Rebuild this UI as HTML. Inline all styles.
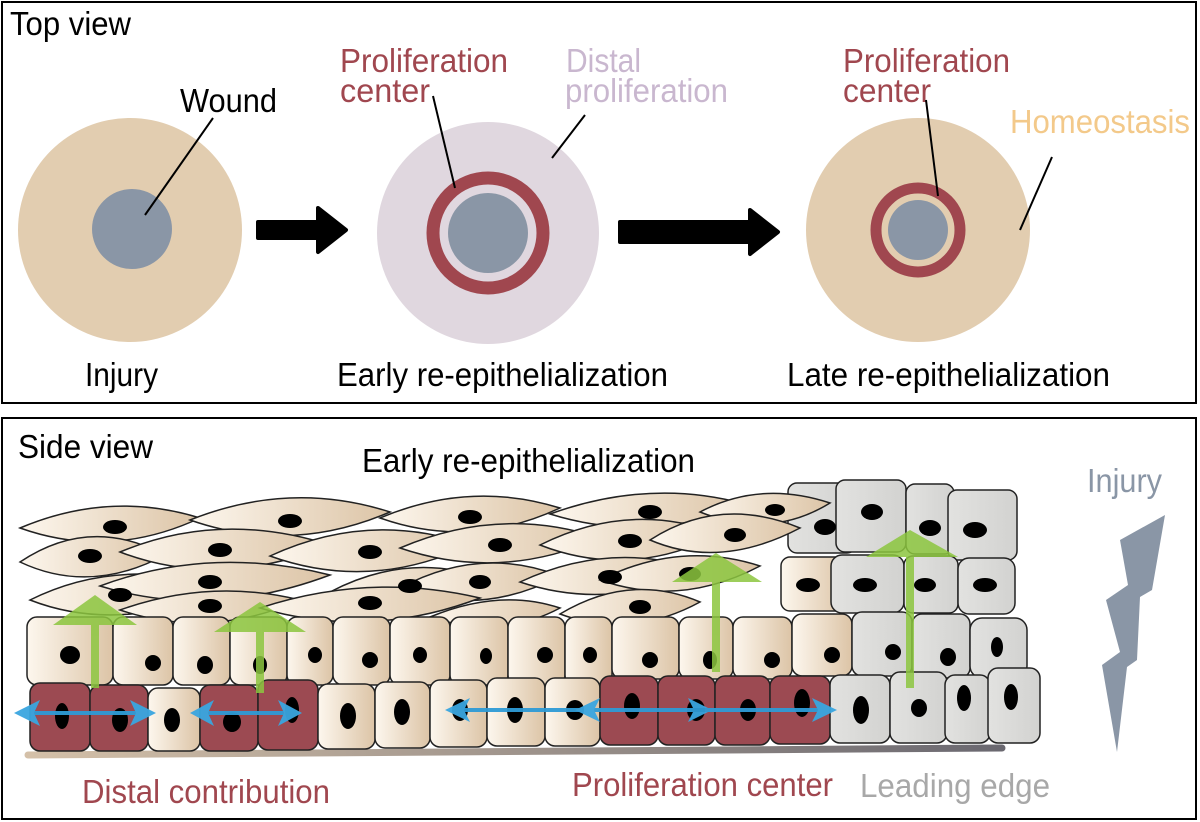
<!DOCTYPE html>
<html><head><meta charset="utf-8"><style>
html,body{margin:0;padding:0;background:#fff;}
svg{display:block;}
text{font-family:"Liberation Sans",sans-serif;font-size:33px;}
</style></head><body>
<svg width="1200" height="822" viewBox="0 0 1200 822" xmlns="http://www.w3.org/2000/svg">
<defs>
<linearGradient id="bg" x1="0" x2="1" y1="0" y2="0"><stop offset="0" stop-color="#fdf7ee"/><stop offset="1" stop-color="#dcc4a6"/></linearGradient>
<linearGradient id="gg" x1="0" x2="1"><stop offset="0" stop-color="#e2e2e0"/><stop offset="1" stop-color="#d2d2d0"/></linearGradient>
<linearGradient id="bm" x1="0" x2="1"><stop offset="0" stop-color="#d4c0a8"/><stop offset="1" stop-color="#6a6870"/></linearGradient>
</defs>
<rect x="2" y="2" width="1194" height="401" fill="#fff" stroke="#000" stroke-width="2"/>
<rect x="2" y="418" width="1194" height="401" fill="#fff" stroke="#000" stroke-width="2"/>

<g lengthAdjust="spacingAndGlyphs">
<text x="10" y="35" textLength="121" lengthAdjust="spacingAndGlyphs">Top view</text>
<text x="180" y="112" textLength="97" lengthAdjust="spacingAndGlyphs">Wound</text>
<text x="85" y="386" textLength="73" lengthAdjust="spacingAndGlyphs">Injury</text>
<text x="340" y="72" fill="#a0474f" textLength="168" lengthAdjust="spacingAndGlyphs">Proliferation</text>
<text x="340" y="102" fill="#a0474f" textLength="90" lengthAdjust="spacingAndGlyphs">center</text>
<text x="566" y="72" fill="#c9b7cf" textLength="75" lengthAdjust="spacingAndGlyphs">Distal</text>
<text x="565" y="102" fill="#c9b7cf" textLength="163" lengthAdjust="spacingAndGlyphs">proliferation</text>
<text x="337" y="386" textLength="331" lengthAdjust="spacingAndGlyphs">Early re-epithelialization</text>
<text x="843" y="72" fill="#a0474f" textLength="167" lengthAdjust="spacingAndGlyphs">Proliferation</text>
<text x="843" y="102" fill="#a0474f" textLength="88" lengthAdjust="spacingAndGlyphs">center</text>
<text x="1010" y="133" fill="#f3c98a" textLength="180" lengthAdjust="spacingAndGlyphs">Homeostasis</text>
<text x="787" y="386" textLength="323" lengthAdjust="spacingAndGlyphs">Late re-epithelialization</text>
<text x="18" y="458" textLength="135" lengthAdjust="spacingAndGlyphs">Side view</text>
<text x="362" y="472" textLength="333" lengthAdjust="spacingAndGlyphs">Early re-epithelialization</text>
<text x="1087" y="492" fill="#8a96a6" textLength="75" lengthAdjust="spacingAndGlyphs">Injury</text>
<text x="82" y="803" fill="#a0474f" textLength="248" lengthAdjust="spacingAndGlyphs">Distal contribution</text>
<text x="572" y="796" fill="#a0474f" textLength="261" lengthAdjust="spacingAndGlyphs">Proliferation center</text>
<text x="860" y="797" fill="#a8a8a8" textLength="190" lengthAdjust="spacingAndGlyphs">Leading edge</text>
</g>

<circle cx="130" cy="230" r="112" fill="#e2cdb0"/>
<circle cx="132" cy="229" r="40" fill="#8a96a6"/>
<line x1="213" y1="118" x2="145" y2="215" stroke="#000" stroke-width="2"/>

<path d="M258 222 H318 V208 L346 230 L318 252 V238 H258Z" fill="#000" stroke="#000" stroke-width="4" stroke-linejoin="round"/>

<circle cx="488" cy="233" r="111" fill="#e0d7df"/>
<circle cx="488" cy="233" r="55" fill="none" stroke="#a0474f" stroke-width="13"/>
<circle cx="488" cy="233" r="40" fill="#8a96a6"/>
<line x1="433" y1="96" x2="455" y2="188" stroke="#000" stroke-width="2"/>
<line x1="585" y1="115" x2="552" y2="158" stroke="#000" stroke-width="2"/>

<path d="M620 222 H750 V210 L778 232 L750 254 V242 H620Z" fill="#000" stroke="#000" stroke-width="4" stroke-linejoin="round"/>

<circle cx="918" cy="230" r="112" fill="#e2cdb0"/>
<circle cx="918" cy="230" r="42" fill="none" stroke="#a0474f" stroke-width="11"/>
<circle cx="918" cy="230" r="30" fill="#8a96a6"/>
<line x1="926" y1="100" x2="938" y2="196" stroke="#000" stroke-width="2"/>
<line x1="1052" y1="157" x2="1020" y2="230" stroke="#000" stroke-width="2"/>

<polygon points="1165,515 1152,590 1140,597 1137,660 1127,667 1117,752 1102,665 1120,652 1106,600 1128,585 1120,540" fill="#8a96a6"/>

<line x1="28" y1="755" x2="1002" y2="748" stroke="url(#bm)" stroke-width="7" stroke-linecap="round"/>

<g stroke="#222" stroke-width="1.5">
<rect x="788" y="483" width="68" height="70" rx="9" fill="url(#gg)"/>
<rect x="836" y="480" width="70" height="72" rx="9" fill="url(#gg)"/>
<rect x="906" y="484" width="48" height="70" rx="9" fill="url(#gg)"/>
<rect x="948" y="490" width="69" height="70" rx="9" fill="url(#gg)"/>
<rect x="781" y="557" width="65" height="54" rx="9" fill="url(#bg)"/>
<rect x="831" y="555" width="73" height="58" rx="11" fill="url(#gg)"/>
<rect x="904" y="556" width="54" height="57" rx="9" fill="url(#gg)"/>
<rect x="958" y="558" width="57" height="56" rx="11" fill="url(#gg)"/>
<g fill="url(#bg)">
<path d="M20 528 Q110 490 200 518 Q110 560 20 528Z"/>
<path d="M190 520 Q290 480 390 512 Q290 555 190 520Z"/>
<path d="M380 518 Q470 480 560 508 Q470 550 380 518Z"/>
<path d="M550 514 Q650 478 745 504 Q650 545 550 514Z"/>
<path d="M700 512 Q760 480 830 503 Q770 540 700 512Z"/>
<path d="M20 562 Q90 515 165 555 Q90 595 20 562Z"/>
<path d="M120 552 Q220 510 330 545 Q220 590 120 552Z"/>
<path d="M270 556 Q370 510 470 545 Q370 592 270 556Z"/>
<path d="M400 548 Q500 505 600 538 Q500 582 400 548Z"/>
<path d="M540 545 Q630 500 720 534 Q630 580 540 545Z"/>
<path d="M650 540 Q720 495 800 528 Q720 570 650 540Z"/>
<path d="M30 600 Q120 555 230 588 Q120 635 30 600Z"/>
<path d="M100 586 Q210 545 330 575 Q210 620 100 586Z"/>
<path d="M330 592 Q410 550 490 580 Q410 622 330 592Z"/>
<path d="M400 588 Q480 545 560 576 Q480 618 400 588Z"/>
<path d="M520 582 Q610 540 700 570 Q610 612 520 582Z"/>
<path d="M600 580 Q680 540 760 566 Q680 608 600 580Z"/>
<path d="M120 610 Q210 578 300 600 Q210 640 120 610Z"/>
<path d="M260 608 Q370 572 480 598 Q370 640 260 608Z"/>
<path d="M560 614 Q630 572 700 602 Q630 640 560 614Z"/>
<path d="M430 617 Q500 588 560 608 Q500 640 430 617Z"/>
</g>
</g>
<g fill="#000">
<ellipse cx="115" cy="527" rx="12" ry="7"/><ellipse cx="290" cy="521" rx="12" ry="7"/><ellipse cx="470" cy="517" rx="12" ry="7"/><ellipse cx="650" cy="512" rx="12" ry="7"/><ellipse cx="775" cy="510" rx="10" ry="6"/>
<ellipse cx="90" cy="556" rx="12" ry="7"/><ellipse cx="220" cy="550" rx="12" ry="7"/><ellipse cx="370" cy="552" rx="12" ry="7"/><ellipse cx="500" cy="545" rx="12" ry="7"/><ellipse cx="630" cy="541" rx="12" ry="7"/><ellipse cx="735" cy="535" rx="11" ry="7"/>
<ellipse cx="120" cy="595" rx="12" ry="7"/><ellipse cx="210" cy="582" rx="12" ry="7"/><ellipse cx="410" cy="586" rx="12" ry="7"/><ellipse cx="480" cy="582" rx="11" ry="7"/><ellipse cx="610" cy="577" rx="12" ry="7"/><ellipse cx="690" cy="574" rx="11" ry="7"/>
<ellipse cx="210" cy="606" rx="12" ry="7"/><ellipse cx="370" cy="603" rx="12" ry="7"/><ellipse cx="640" cy="607" rx="11" ry="7"/>
<ellipse cx="825" cy="527" rx="11" ry="8"/><ellipse cx="872" cy="512" rx="11" ry="8"/><ellipse cx="930" cy="528" rx="11" ry="8"/><ellipse cx="975" cy="530" rx="12" ry="8"/>
<ellipse cx="808" cy="585" rx="12" ry="7"/><ellipse cx="865" cy="585" rx="12" ry="7"/><ellipse cx="925" cy="585" rx="11" ry="7"/><ellipse cx="985" cy="585" rx="12" ry="7"/>
</g>

<g stroke="#222" stroke-width="1.5" fill="url(#bg)">
<rect x="27" y="617" width="86" height="68" rx="10"/>
<rect x="113" y="617" width="60" height="68" rx="10"/>
<rect x="173" y="617" width="57" height="68" rx="10"/>
<rect x="230" y="617" width="57" height="68" rx="10"/>
<rect x="287" y="617" width="46" height="68" rx="10"/>
<rect x="333" y="617" width="57" height="68" rx="10"/>
<rect x="390" y="617" width="60" height="68" rx="10"/>
<rect x="450" y="617" width="58" height="68" rx="10"/>
<rect x="508" y="617" width="57" height="68" rx="10"/>
<rect x="565" y="617" width="47" height="68" rx="10"/>
<rect x="612" y="617" width="67" height="62" rx="10"/>
<rect x="679" y="617" width="54" height="62" rx="10"/>
<rect x="733" y="617" width="59" height="62" rx="10"/>
<rect x="792" y="614" width="60" height="62" rx="10"/>
<rect x="852" y="612" width="60" height="64" rx="10" fill="url(#gg)"/>
<rect x="912" y="614" width="58" height="64" rx="10" fill="url(#gg)"/>
<rect x="970" y="618" width="57" height="60" rx="12" fill="url(#gg)"/>
</g>
<g fill="#000">
<ellipse cx="70" cy="655" rx="10" ry="9"/><ellipse cx="153" cy="663" rx="8" ry="8"/><ellipse cx="205" cy="665" rx="8" ry="9"/><ellipse cx="260" cy="665" rx="7" ry="9"/><ellipse cx="315" cy="655" rx="7" ry="8"/><ellipse cx="370" cy="660" rx="8" ry="8"/><ellipse cx="420" cy="655" rx="7" ry="8"/><ellipse cx="486" cy="656" rx="6" ry="8"/><ellipse cx="545" cy="655" rx="8" ry="8"/><ellipse cx="590" cy="655" rx="7" ry="8"/>
<ellipse cx="650" cy="660" rx="8" ry="8"/><ellipse cx="710" cy="660" rx="7" ry="9"/><ellipse cx="772" cy="660" rx="8" ry="8"/><ellipse cx="832" cy="655" rx="8" ry="8"/><ellipse cx="893" cy="652" rx="8" ry="8"/><ellipse cx="948" cy="657" rx="8" ry="9"/><ellipse cx="997" cy="647" rx="6" ry="10"/>
</g>

<g stroke="#222" stroke-width="1.5">
<rect x="30" y="683" width="60" height="68" rx="10" fill="#9c4a52"/>
<rect x="90" y="685" width="58" height="66" rx="10" fill="#9c4a52"/>
<rect x="148" y="688" width="52" height="63" rx="10" fill="url(#bg)"/>
<rect x="200" y="685" width="58" height="66" rx="10" fill="#9c4a52"/>
<rect x="258" y="680" width="60" height="70" rx="10" fill="#9c4a52"/>
<rect x="318" y="684" width="57" height="65" rx="10" fill="url(#bg)"/>
<rect x="375" y="682" width="55" height="66" rx="10" fill="url(#bg)"/>
<rect x="430" y="680" width="57" height="67" rx="10" fill="url(#bg)"/>
<rect x="487" y="678" width="58" height="68" rx="10" fill="url(#bg)"/>
<rect x="545" y="678" width="55" height="68" rx="10" fill="url(#bg)"/>
<rect x="600" y="676" width="58" height="69" rx="10" fill="#9c4a52"/>
<rect x="658" y="676" width="57" height="69" rx="10" fill="#9c4a52"/>
<rect x="715" y="676" width="55" height="69" rx="10" fill="#9c4a52"/>
<rect x="770" y="676" width="60" height="68" rx="10" fill="#9c4a52"/>
<rect x="830" y="675" width="60" height="68" rx="10" fill="url(#gg)"/>
<rect x="890" y="672" width="57" height="71" rx="10" fill="url(#gg)"/>
<rect x="945" y="675" width="45" height="68" rx="10" fill="url(#gg)"/>
<rect x="988" y="668" width="52" height="75" rx="10" fill="url(#gg)"/>
</g>
<g fill="#000">
<ellipse cx="62" cy="716" rx="7" ry="13"/><ellipse cx="120" cy="720" rx="8" ry="12"/><ellipse cx="172" cy="720" rx="8" ry="12"/><ellipse cx="232" cy="722" rx="9" ry="10"/><ellipse cx="292" cy="710" rx="7" ry="13"/><ellipse cx="348" cy="716" rx="8" ry="13"/><ellipse cx="402" cy="712" rx="8" ry="13"/><ellipse cx="460" cy="710" rx="8" ry="11"/><ellipse cx="515" cy="710" rx="8" ry="13"/><ellipse cx="575" cy="710" rx="9" ry="10"/>
<ellipse cx="632" cy="706" rx="8" ry="13"/><ellipse cx="696" cy="710" rx="9" ry="11"/><ellipse cx="748" cy="710" rx="8" ry="11"/><ellipse cx="802" cy="703" rx="8" ry="14"/><ellipse cx="861" cy="710" rx="8" ry="14"/><ellipse cx="919" cy="708" rx="8" ry="9"/><ellipse cx="964" cy="698" rx="7" ry="13"/><ellipse cx="1011" cy="697" rx="7" ry="13"/>
</g>

<g fill="#8cc63f" opacity="0.85">
<rect x="91" y="620" width="8" height="68"/><polygon points="95,595 53,625 137,625"/>
<rect x="256" y="627" width="8" height="66"/><polygon points="260,602 214,632 306,632"/>
<rect x="712" y="578" width="8" height="94"/><polygon points="716,553 672,582 762,582"/>
<rect x="906" y="553" width="8" height="135"/><polygon points="910,530 866,557 958,557"/>
</g>

<g stroke="#2f9bd6" stroke-width="4" fill="#3aa6e0" opacity="0.95">
<line x1="25" y1="713" x2="145" y2="713"/><polygon points="14,713 40,700 34,713 40,726" stroke="none"/><polygon points="156,713 130,700 136,713 130,726" stroke="none"/>
<line x1="200" y1="713" x2="290" y2="713"/><polygon points="190,713 214,700 208,713 214,726" stroke="none"/><polygon points="302,713 278,700 284,713 278,726" stroke="none"/>
<line x1="455" y1="710" x2="700" y2="710"/><polygon points="445,710 470,698 464,710 470,722" stroke="none"/><polygon points="712,710 688,698 694,710 688,722" stroke="none"/>
<line x1="585" y1="710" x2="825" y2="710"/><polygon points="575,710 600,698 594,710 600,722" stroke="none"/><polygon points="837,710 812,698 818,710 812,722" stroke="none"/>
</g>
</svg>
</body></html>
